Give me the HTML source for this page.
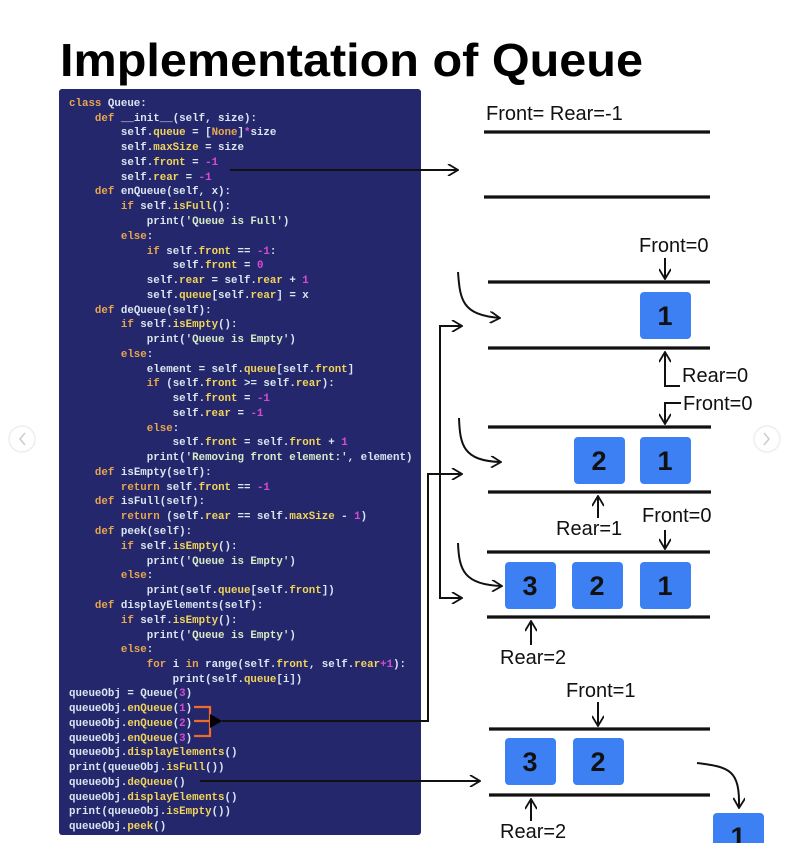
<!DOCTYPE html>
<html><head><meta charset="utf-8"><style>
html,body{margin:0;padding:0;background:#fff;width:791px;height:843px;overflow:hidden}
svg{display:block}
.c{font-family:"Liberation Mono",monospace;font-size:10.8px;fill:#dbe6f2;font-weight:bold}
.c text{white-space:pre}
.k{fill:#e8a64e}.a{fill:#f2d45a}.n{fill:#d64ccf}.s{fill:#d9ebc6}
.l{font-family:"Liberation Sans",sans-serif;font-size:20px;fill:#111}
.b{font-family:"Liberation Sans",sans-serif;font-size:27px;font-weight:bold;fill:#111;text-anchor:middle}
</style></head><body>
<svg width="791" height="843" viewBox="0 0 791 843" xmlns="http://www.w3.org/2000/svg">
<defs><marker id="ah" viewBox="0 0 12 12" refX="11" refY="6" markerWidth="12" markerHeight="12" markerUnits="userSpaceOnUse" orient="auto"><path d="M1,0 L11,6 L1,12" fill="none" stroke="#111" stroke-width="1.8"/></marker></defs>
<text x="60" y="76" font-family="Liberation Sans,sans-serif" font-weight="bold" font-size="46" textLength="583" lengthAdjust="spacingAndGlyphs" fill="#000">Implementation of Queue</text>
<circle cx="22" cy="439" r="13" fill="#fff" stroke="#eee" stroke-width="1.5"/><path d="M25,433 L20,439 L25,445" fill="none" stroke="#ccc" stroke-width="1.5"/>
<circle cx="767" cy="439" r="13" fill="#fff" stroke="#eee" stroke-width="1.5"/><path d="M764,433 L769,439 L764,445" fill="none" stroke="#ccc" stroke-width="1.5"/>
<rect x="59" y="89" width="362" height="746" rx="3" fill="#24276b"/>
<g class="c">
<text x="69" y="106"><tspan class="k">class</tspan> Queue:</text>
<text x="69" y="121">    <tspan class="k">def</tspan> __init__(self, size):</text>
<text x="69" y="135">        self.<tspan class="a">queue</tspan> = [<tspan class="k">None</tspan>]<tspan class="n">*</tspan>size</text>
<text x="69" y="150">        self.<tspan class="a">maxSize</tspan> = size</text>
<text x="69" y="165">        self.<tspan class="a">front</tspan> = <tspan class="n">-1</tspan></text>
<text x="69" y="180">        self.<tspan class="a">rear</tspan> = <tspan class="n">-1</tspan></text>
<text x="69" y="194">    <tspan class="k">def</tspan> enQueue(self, x):</text>
<text x="69" y="209">        <tspan class="k">if</tspan> self.<tspan class="a">isFull</tspan>():</text>
<text x="69" y="224">            print(<tspan class="s">'Queue is Full'</tspan>)</text>
<text x="69" y="239">        <tspan class="k">else</tspan>:</text>
<text x="69" y="254">            <tspan class="k">if</tspan> self.<tspan class="a">front</tspan> == <tspan class="n">-1</tspan>:</text>
<text x="69" y="268">                self.<tspan class="a">front</tspan> = <tspan class="n">0</tspan></text>
<text x="69" y="283">            self.<tspan class="a">rear</tspan> = self.<tspan class="a">rear</tspan> + <tspan class="n">1</tspan></text>
<text x="69" y="298">            self.<tspan class="a">queue</tspan>[self.<tspan class="a">rear</tspan>] = x</text>
<text x="69" y="313">    <tspan class="k">def</tspan> deQueue(self):</text>
<text x="69" y="327">        <tspan class="k">if</tspan> self.<tspan class="a">isEmpty</tspan>():</text>
<text x="69" y="342">            print(<tspan class="s">'Queue is Empty'</tspan>)</text>
<text x="69" y="357">        <tspan class="k">else</tspan>:</text>
<text x="69" y="372">            element = self.<tspan class="a">queue</tspan>[self.<tspan class="a">front</tspan>]</text>
<text x="69" y="386">            <tspan class="k">if</tspan> (self.<tspan class="a">front</tspan> &gt;= self.<tspan class="a">rear</tspan>):</text>
<text x="69" y="401">                self.<tspan class="a">front</tspan> = <tspan class="n">-1</tspan></text>
<text x="69" y="416">                self.<tspan class="a">rear</tspan> = <tspan class="n">-1</tspan></text>
<text x="69" y="431">            <tspan class="k">else</tspan>:</text>
<text x="69" y="445">                self.<tspan class="a">front</tspan> = self.<tspan class="a">front</tspan> + <tspan class="n">1</tspan></text>
<text x="69" y="460">            print(<tspan class="s">'Removing front element:'</tspan>, element)</text>
<text x="69" y="475">    <tspan class="k">def</tspan> isEmpty(self):</text>
<text x="69" y="490">        <tspan class="k">return</tspan> self.<tspan class="a">front</tspan> == <tspan class="n">-1</tspan></text>
<text x="69" y="504">    <tspan class="k">def</tspan> isFull(self):</text>
<text x="69" y="519">        <tspan class="k">return</tspan> (self.<tspan class="a">rear</tspan> == self.<tspan class="a">maxSize</tspan> - <tspan class="n">1</tspan>)</text>
<text x="69" y="534">    <tspan class="k">def</tspan> peek(self):</text>
<text x="69" y="549">        <tspan class="k">if</tspan> self.<tspan class="a">isEmpty</tspan>():</text>
<text x="69" y="564">            print(<tspan class="s">'Queue is Empty'</tspan>)</text>
<text x="69" y="578">        <tspan class="k">else</tspan>:</text>
<text x="69" y="593">            print(self.<tspan class="a">queue</tspan>[self.<tspan class="a">front</tspan>])</text>
<text x="69" y="608">    <tspan class="k">def</tspan> displayElements(self):</text>
<text x="69" y="623">        <tspan class="k">if</tspan> self.<tspan class="a">isEmpty</tspan>():</text>
<text x="69" y="638">            print(<tspan class="s">'Queue is Empty'</tspan>)</text>
<text x="69" y="652">        <tspan class="k">else</tspan>:</text>
<text x="69" y="667">            <tspan class="k">for</tspan> i <tspan class="k">in</tspan> range(self.<tspan class="a">front</tspan>, self.<tspan class="a">rear</tspan><tspan class="n">+1</tspan>):</text>
<text x="69" y="682">                print(self.<tspan class="a">queue</tspan>[i])</text>
<text x="69" y="696">queueObj = Queue(<tspan class="n">3</tspan>)</text>
<text x="69" y="711">queueObj.<tspan class="a">enQueue</tspan>(<tspan class="n">1</tspan>)</text>
<text x="69" y="726">queueObj.<tspan class="a">enQueue</tspan>(<tspan class="n">2</tspan>)</text>
<text x="69" y="741">queueObj.<tspan class="a">enQueue</tspan>(<tspan class="n">3</tspan>)</text>
<text x="69" y="755">queueObj.<tspan class="a">displayElements</tspan>()</text>
<text x="69" y="770">print(queueObj.<tspan class="a">isFull</tspan>())</text>
<text x="69" y="785">queueObj.<tspan class="a">deQueue</tspan>()</text>
<text x="69" y="800">queueObj.<tspan class="a">displayElements</tspan>()</text>
<text x="69" y="814">print(queueObj.<tspan class="a">isEmpty</tspan>())</text>
<text x="69" y="829">queueObj.<tspan class="a">peek</tspan>()</text>
</g>
<g stroke="#f06a28" stroke-width="2.2" fill="none">
<path d="M194,707 L210,707 L210,736 L194,736 M194,721 L210,721"/>
</g>
<path d="M210,714 L222,721 L210,728 Z" fill="#000"/>
<g stroke="#111" stroke-width="2" fill="none">
<line x1="230" y1="170" x2="458" y2="170" marker-end="url(#ah)"/>
<path d="M222,721 L428,721 L428,474 L462,474" marker-end="url(#ah)"/>
<path d="M462,326 L440,326 L440,598 L462,598" marker-end="url(#ah)"/>
<line x1="440" y1="326" x2="462" y2="326" marker-end="url(#ah)"/>
<line x1="200" y1="781" x2="480" y2="781" marker-end="url(#ah)"/>
<path d="M458,272 C460,300 462,315 500,318" marker-end="url(#ah)"/>
<path d="M459,418 C460,445 463,461 501,462" marker-end="url(#ah)"/>
<path d="M458,543 C459,570 464,585 502,586" marker-end="url(#ah)"/>
<path d="M697,763 C730,767 740,770 739,808" marker-end="url(#ah)"/>
<line x1="665" y1="258" x2="665" y2="279" marker-end="url(#ah)"/>
<path d="M665,374 L665,386 L680,386"/><line x1="665" y1="380" x2="665" y2="352" marker-end="url(#ah)"/>
<path d="M681,403 L665,403 L665,424" marker-end="url(#ah)"/>
<line x1="598" y1="518" x2="598" y2="496" marker-end="url(#ah)"/>
<line x1="665" y1="530" x2="665" y2="549" marker-end="url(#ah)"/>
<line x1="531" y1="645" x2="531" y2="621" marker-end="url(#ah)"/>
<line x1="598" y1="702" x2="598" y2="726" marker-end="url(#ah)"/>
<line x1="531" y1="821" x2="531" y2="799" marker-end="url(#ah)"/>
</g>
<g stroke="#111" stroke-width="3.2">
<line x1="484" y1="132" x2="710" y2="132"/><line x1="484" y1="197" x2="710" y2="197"/>
<line x1="488" y1="282" x2="710" y2="282"/><line x1="488" y1="348" x2="710" y2="348"/>
<line x1="488" y1="427" x2="711" y2="427"/><line x1="488" y1="492" x2="711" y2="492"/>
<line x1="487" y1="552" x2="710" y2="552"/><line x1="487" y1="617" x2="710" y2="617"/>
<line x1="489" y1="729" x2="710" y2="729"/><line x1="489" y1="795" x2="710" y2="795"/>
</g>
<g fill="#3d80f4">
<rect x="640" y="292" width="51" height="47" rx="4"/>
<rect x="574" y="437" width="51" height="47" rx="4"/><rect x="640" y="437" width="51" height="47" rx="4"/>
<rect x="505" y="562" width="51" height="47" rx="4"/><rect x="572" y="562" width="51" height="47" rx="4"/><rect x="640" y="562" width="51" height="47" rx="4"/>
<rect x="505" y="738" width="51" height="47" rx="4"/><rect x="573" y="738" width="51" height="47" rx="4"/>
<rect x="713" y="813" width="51" height="47" rx="4"/>
</g>
<text class="b" x="665" y="325">1</text>
<text class="b" x="599" y="470">2</text><text class="b" x="665" y="470">1</text>
<text class="b" x="530" y="595">3</text><text class="b" x="597" y="595">2</text><text class="b" x="665" y="595">1</text>
<text class="b" x="530" y="771">3</text><text class="b" x="598" y="771">2</text>
<text class="b" x="738" y="846">1</text>
<text class="l" x="486" y="120">Front= Rear=-1</text>
<text class="l" x="639" y="252">Front=0</text>
<text class="l" x="682" y="382">Rear=0</text>
<text class="l" x="683" y="410">Front=0</text>
<text class="l" x="556" y="535">Rear=1</text>
<text class="l" x="642" y="522">Front=0</text>
<text class="l" x="500" y="664">Rear=2</text>
<text class="l" x="566" y="697">Front=1</text>
<text class="l" x="500" y="838">Rear=2</text>
</svg>
</body></html>
